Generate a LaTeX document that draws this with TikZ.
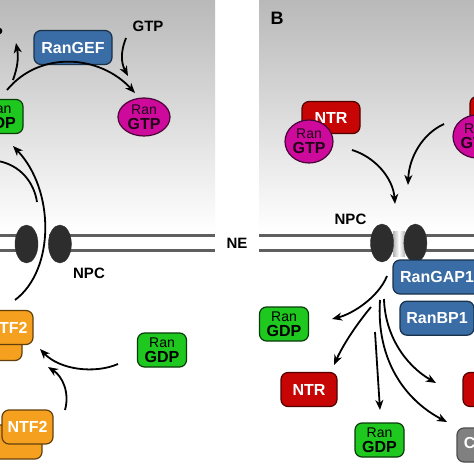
\documentclass[tikz,border=0pt]{standalone}
\usepackage{fontspec}
\setmainfont{Liberation Sans}
\usepackage{tikz}
\usetikzlibrary{positioning, arrows, arrows.meta, shapes.geometric}
\definecolor{gefblue}{RGB}{58,108,165}
\definecolor{gdpgreen}{RGB}{30,200,30}
\definecolor{gtppink}{RGB}{205,10,155}
\definecolor{ntrred}{RGB}{200,5,5}
\definecolor{ntforange}{RGB}{245,160,30}
\definecolor{crggray}{RGB}{128,128,128}
\definecolor{npcgray}{RGB}{45,45,45}
\definecolor{negray}{RGB}{95,95,95}
\newcommand{\rannm}[1]{{\fontsize{14}{15}\selectfont Ran}\\{\fontsize{16}{15}\selectfont\bfseries #1}}
\tikzstyle{box}=[draw, line width=1.2pt, rounded corners=7pt, minimum height=34pt, inner sep=2pt, align=center]
\tikzstyle{blu}=[box, fill=gefblue, draw=gefblue!45!black, text=white, font=\bfseries\fontsize{16}{16}\selectfont]
\tikzstyle{gdp}=[box, fill=gdpgreen, draw=gdpgreen!30!black, minimum width=49pt, font=\fontsize{15}{15}\selectfont]
\tikzstyle{ntr}=[box, fill=ntrred, draw=ntrred!40!black, text=white, minimum width=56pt, font=\bfseries\fontsize{16}{16}\selectfont]
\tikzstyle{ntf}=[box, fill=ntforange, draw=ntforange!40!black, text=white, minimum width=51pt, font=\bfseries\fontsize{16}{16}\selectfont]
\tikzstyle{crg}=[box, fill=crggray, draw=black!70, text=white, minimum width=60pt, font=\bfseries\fontsize{16}{16}\selectfont]
\tikzstyle{gtp}=[ellipse, draw=gtppink!35!black, line width=1.2pt, fill=gtppink, text=black!85!gtppink, inner sep=0pt, align=center, minimum width=51pt, minimum height=38pt, font=\fontsize{15}{15}\selectfont]
\tikzstyle{pore}=[ellipse, fill=npcgray, draw=black!80, inner sep=0pt, minimum width=23pt, minimum height=38pt]
\tikzstyle{lbl}=[inner sep=1pt, font=\bfseries\fontsize{15}{15}\selectfont]
\tikzstyle{arr}=[->, line width=1.8pt]
\tikzstyle{mem}=[line width=3pt, draw=negray]

\begin{document}
\begin{tikzpicture}[x=1pt, y=-1pt, >={Stealth[length=10pt, width=8pt, inset=3pt]}]
  \useasboundingbox (0,0) rectangle (474,474);
  \fill[white] (0,0) rectangle (474,474);
  % cytoplasm
  \shade[top color=gray!55, bottom color=white] (0,0) rectangle (215,232);
  \shade[top color=gray!55, bottom color=white] (259,0) rectangle (474,232);
  % nuclear envelope
  \draw[mem] (0,235) -- (215,235) (0,250) -- (215,250);
  \draw[mem] (259,235) -- (474,235) (259,250) -- (474,250);
  \node[lbl] (ne) at (237,243) {NE};

  % A
  \fill[white] (37,231) rectangle (49,256);
  \node[pore] (pa) at (26.5,244) {};
  \node[pore, right=10pt of pa] (pb) {};
  \node[lbl] (npca) at (89,273.5) {NPC};

  \node[gdp] (gdpa) at (-1.5,116.5) {\rannm{GDP}};
  \node[blu, minimum width=78pt] (gef) at (73,47.5) {RanGEF};
  \node[lbl] (gtp) at (148,26) {GTP};
  \node[lbl, anchor=east, inner sep=0pt] (gdp) at (3,33) {GDP};
  \node[gtp, minimum width=52pt] (gtpa) at (144,117) {\rannm{GTP}};

  \coordinate (c1) at (7,90);
  \coordinate (c2) at (135,93);
  \draw[arr] (c1) .. controls (40,50) and (100,55) .. (c2);
  \coordinate (c3) at (13,80);
  \coordinate (c4) at (16,43);
  \draw[arr] (c3) to[bend right=15] (c4);
  \coordinate (c5) at (126,38);
  \coordinate (c6) at (128,76);
  \draw[arr] (c5) to[bend right=25] (c6);
  \coordinate (c7) at (15,300);
  \coordinate (c8) at (13,146);
  \draw[arr] (c7) .. controls (55,270) and (55,190) .. (c8);
  \coordinate (c9) at (-2,161);
  \coordinate (c10) at (37,202);
  \draw[line width=1.8pt] (c9) .. controls (20,165) and (34,182) .. (c10);

  \node[ntf] (ntfb) at (-3.5,343.5) {};
  \node[ntf] (ntfa) at (7.5,327.5) {NTF2};
  \node[ntf] (ntfd) at (16.5,442) {};
  \node[ntf] (ntfc) at (27.5,427) {NTF2};
  \node[gdp] (gdpb) at (162,350) {\rannm{GDP}};

  \coordinate (c11) at (118,364);
  \coordinate (c12) at (40,349);
  \draw[arr] (c11) .. controls (95,374) and (60,370) .. (c12);
  \coordinate (c13) at (65,410);
  \coordinate (c14) at (48,367);
  \draw[arr] (c13) .. controls (70,392) and (62,376) .. (c14);

  % B
  \node[font=\bfseries\fontsize{18}{18}\selectfont] (b) at (277,18.5) {B};
  \node[ntr, minimum height=32pt, minimum width=58pt] (ntra) at (331,117.5) {NTR};
  \node[gtp, minimum width=48pt, minimum height=43pt] (gtpb) at (309,141.5) {\rannm{GTP}};
  \node[ntr, minimum height=32pt, minimum width=58pt] (ntrb) at (499,112.5) {NTR};
  \node[gtp, minimum width=48pt, minimum height=43pt] (gtpc) at (477,136.5) {\rannm{GTP}};

  \coordinate (c15) at (352,150);
  \coordinate (c16) at (395,204);
  \draw[arr] (c15) .. controls (375,157) and (393,178) .. (c16);
  \coordinate (c17) at (444,124);
  \coordinate (c18) at (408,185);
  \draw[arr] (c17) .. controls (422,134) and (409,158) .. (c18);

  \shade[left color=gray!60, right color=gray!60, middle color=white] (393,231) rectangle (405,256);
  \node[pore] (pc) at (382,243) {};
  \node[pore, right=10pt of pc] (pd) {};
  \node[lbl] (npcb) at (350.5,219) {NPC};

  \node[blu, minimum width=88pt] (gap) at (437,277) {RanGAP1};
  \node[blu, minimum width=74pt, below=6pt of gap] (bp) {RanBP1};

  \node[gdp] (gdpc) at (284,324) {\rannm{GDP}};
  \node[ntr] (ntrc) at (309,389.5) {NTR};
  \node[gdp] (gdpd) at (379.5,440) {\rannm{GDP}};
  \node[ntr] (ntrd) at (491,389.5) {NTR};
  \node[crg] (cargo) at (487,445) {Cargo};

  \coordinate (f1) at (387,276);
  \coordinate (e1) at (332,319);
  \draw[arr] (f1) .. controls (378,298) and (352,314) .. (e1);
  \coordinate (f2) at (371,307);
  \coordinate (e2) at (334,365);
  \draw[arr] (f2) .. controls (356,325) and (343,345) .. (e2);
  \coordinate (f3) at (375,332);
  \coordinate (e3) at (380,410);
  \draw[arr] (f3) -- (e3);
  \coordinate (f4) at (384,299);
  \coordinate (e4) at (436,383);
  \draw[arr] (f4) .. controls (385,335) and (405,365) .. (e4);
  \coordinate (f5) at (380,300);
  \coordinate (e5) at (447,422);
  \draw[arr] (f5) .. controls (376,360) and (405,400) .. (e5);
\end{tikzpicture}
\end{document}
